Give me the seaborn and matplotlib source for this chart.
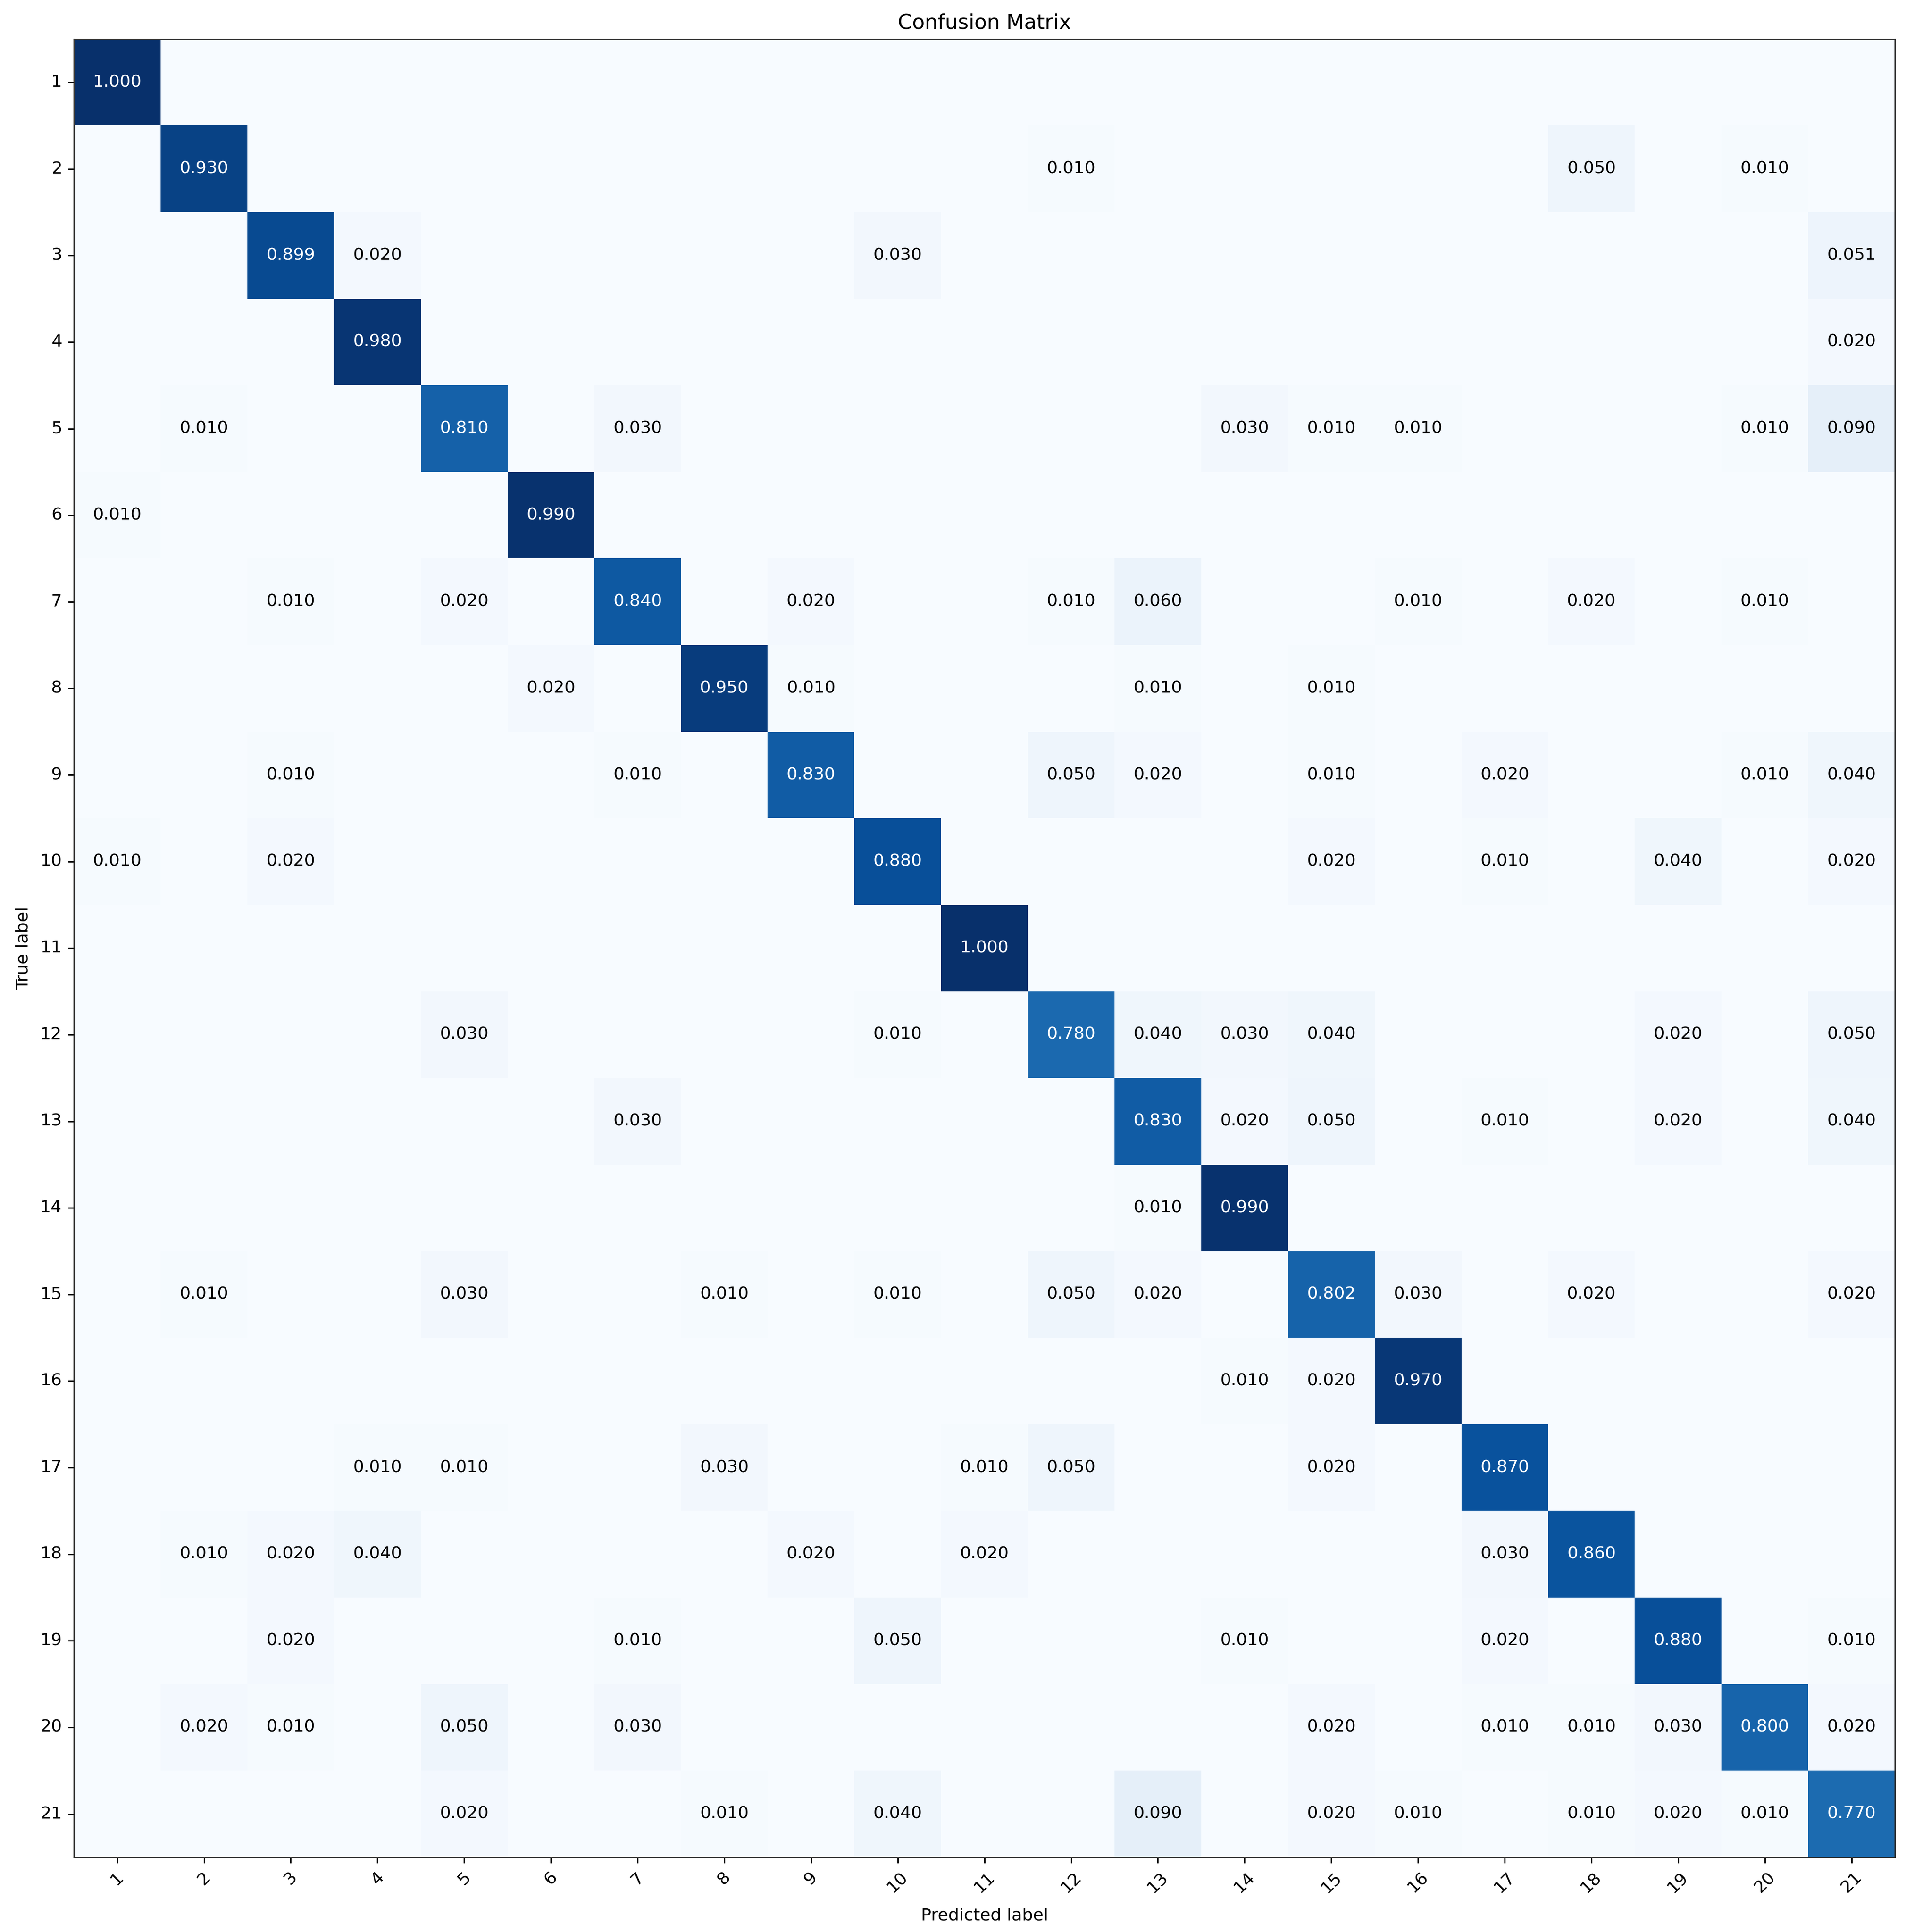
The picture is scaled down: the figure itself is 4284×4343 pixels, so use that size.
import matplotlib
matplotlib.use("Agg")
import matplotlib.pyplot as plt
import numpy as np
import seaborn as sns

# class names (1..21) used for both axes
class_labels = [str(i) for i in range(1, 22)]

# normalized confusion matrix, rows = true label, cols = predicted label
cm_rows = [
    [1.000, 0, 0, 0, 0, 0, 0, 0, 0, 0, 0, 0, 0, 0, 0, 0, 0, 0, 0, 0, 0],
    [0, .930, 0, 0, 0, 0, 0, 0, 0, 0, 0, .010, 0, 0, 0, 0, 0, .050, 0, .010, 0],
    [0, 0, .899, .020, 0, 0, 0, 0, 0, .030, 0, 0, 0, 0, 0, 0, 0, 0, 0, 0, .051],
    [0, 0, 0, .980, 0, 0, 0, 0, 0, 0, 0, 0, 0, 0, 0, 0, 0, 0, 0, 0, .020],
    [0, .010, 0, 0, .810, 0, .030, 0, 0, 0, 0, 0, 0, .030, .010, .010, 0, 0, 0, .010, .090],
    [.010, 0, 0, 0, 0, .990, 0, 0, 0, 0, 0, 0, 0, 0, 0, 0, 0, 0, 0, 0, 0],
    [0, 0, .010, 0, .020, 0, .840, 0, .020, 0, 0, .010, .060, 0, 0, .010, 0, .020, 0, .010, 0],
    [0, 0, 0, 0, 0, .020, 0, .950, .010, 0, 0, 0, .010, 0, .010, 0, 0, 0, 0, 0, 0],
    [0, 0, .010, 0, 0, 0, .010, 0, .830, 0, 0, .050, .020, 0, .010, 0, .020, 0, 0, .010, .040],
    [.010, 0, .020, 0, 0, 0, 0, 0, 0, .880, 0, 0, 0, 0, .020, 0, .010, 0, .040, 0, .020],
    [0, 0, 0, 0, 0, 0, 0, 0, 0, 0, 1.000, 0, 0, 0, 0, 0, 0, 0, 0, 0, 0],
    [0, 0, 0, 0, .030, 0, 0, 0, 0, .010, 0, .780, .040, .030, .040, 0, 0, 0, .020, 0, .050],
    [0, 0, 0, 0, 0, 0, .030, 0, 0, 0, 0, 0, .830, .020, .050, 0, .010, 0, .020, 0, .040],
    [0, 0, 0, 0, 0, 0, 0, 0, 0, 0, 0, 0, .010, .990, 0, 0, 0, 0, 0, 0, 0],
    [0, .010, 0, 0, .030, 0, 0, .010, 0, .010, 0, .050, .020, 0, .802, .030, 0, .020, 0, 0, .020],
    [0, 0, 0, 0, 0, 0, 0, 0, 0, 0, 0, 0, 0, .010, .020, .970, 0, 0, 0, 0, 0],
    [0, 0, 0, .010, .010, 0, 0, .030, 0, 0, .010, .050, 0, 0, .020, 0, .870, 0, 0, 0, 0],
    [0, .010, .020, .040, 0, 0, 0, 0, .020, 0, .020, 0, 0, 0, 0, 0, .030, .860, 0, 0, 0],
    [0, 0, .020, 0, 0, 0, .010, 0, 0, .050, 0, 0, 0, .010, 0, 0, .020, 0, .880, 0, .010],
    [0, .020, .010, 0, .050, 0, .030, 0, 0, 0, 0, 0, 0, 0, .020, 0, .010, .010, .030, .800, .020],
    [0, 0, 0, 0, .020, 0, 0, .010, 0, .040, 0, 0, .090, 0, .020, .010, 0, .010, .020, .010, .770],
]

cm = np.array(cm_rows)
# show only non-zero cells as text
annot = np.where(cm > 0, np.vectorize(lambda v: "%.3f" % v)(cm), "")

fig = plt.figure(figsize=(4284 / 277, 4343 / 277), dpi=277)
ax = fig.add_axes([0.0388, 0.0387, 0.9554, 0.9411])

sns.heatmap(cm, annot=annot, fmt="", cmap="Blues", vmin=0, vmax=1,
            cbar=False, xticklabels=class_labels, yticklabels=class_labels,
            annot_kws={"fontsize": 10}, ax=ax)

# white text on dark cells, black elsewhere
thresh = cm.max() / 2.0
for t in ax.texts:
    x, y = t.get_position()
    v = cm[int(y), int(x)]
    t.set_color("white" if v > thresh else "black")

for s in ax.spines.values():
    s.set_visible(True)
    s.set_color("#333333")
    s.set_linewidth(0.8)

ax.tick_params(axis="both", length=3.5, width=0.8, labelsize=10)
plt.setp(ax.get_xticklabels(), rotation=45)
plt.setp(ax.get_yticklabels(), rotation=0)

ax.set_title("Confusion Matrix", fontsize=12)
ax.set_ylabel("True label", labelpad=5)
ax.set_xlabel("Predicted label", labelpad=7)

fig.savefig("out.png", dpi=277)
